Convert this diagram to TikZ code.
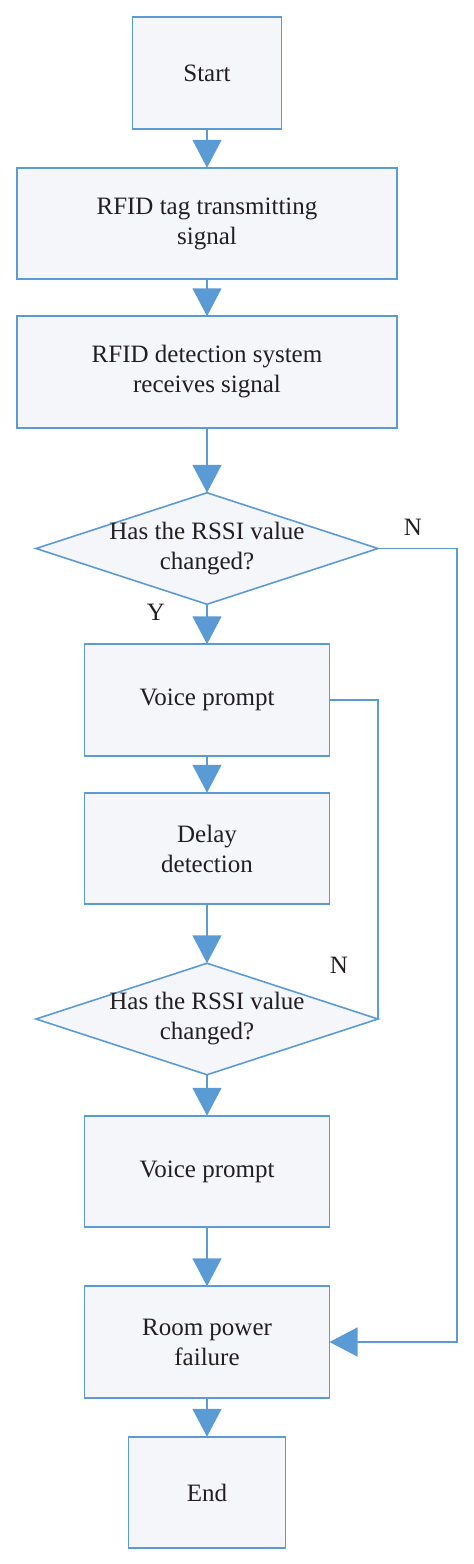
\documentclass[tikz,border=0pt]{standalone}
\usepackage{fontspec}
\setmainfont{Liberation Serif}
\usetikzlibrary{arrows.meta,shapes.geometric,positioning,calc}
\definecolor{flowblue}{HTML}{5B9BD5}
\definecolor{boxfill}{HTML}{F4F6FA}
\definecolor{flowtext}{HTML}{231F20}

\tikzset{
  box/.style={draw=flowblue,fill=boxfill,line width=1.6pt,minimum height=111.5pt,outer sep=0pt,
    align=center,text=flowtext,font=\fontsize{25}{30}\selectfont},
  decision/.style={box,diamond,aspect=3.08,inner sep=-5pt,minimum width=342pt,minimum height=111.5pt},
  line/.style={draw=flowblue,line width=1.6pt},
  arrow/.style={line,-{Triangle[width=29pt,length=28pt]},flowblue},
  lbl/.style={text=flowtext,font=\fontsize{25}{30}\selectfont,inner sep=0pt}
}

\begin{document}
\begin{tikzpicture}[x=1pt,y=-1pt]
\useasboundingbox (0,0) rectangle (474,1564);

% main column
\node [box,minimum width=149pt] (start) at (207,73) {Start};
\node [box,minimum width=380pt,below=39pt of start] (tag) {RFID tag transmitting\\signal};
\node [box,minimum width=380pt,below=37pt of tag] (recv) {RFID detection system\\receives signal};
\node [decision,below=65pt of recv] (dia1) {Has the RSSI value\\changed?};
\node [box,minimum width=245pt,below=40pt of dia1] (voice1) {Voice prompt};
\node [box,minimum width=245pt,below=37pt of voice1] (delay) {Delay\\detection};
\node [decision,below=59pt of delay] (dia2) {Has the RSSI value\\changed?};
\node [box,minimum width=245pt,below=41pt of dia2] (voice2) {Voice prompt};
\node [box,minimum width=245pt,below=59pt of voice2] (fail) {Room power\\failure};
\node [box,minimum width=157pt,below=39pt of fail] (end) {End};

\foreach \a / \b in {start/tag,tag/recv,recv/dia1,dia1/voice1,voice1/delay,delay/dia2,dia2/voice2,voice2/fail,fail/end}
  \draw [arrow] (\a) -- (\b);

% side branches
\coordinate (rt) at (457,0);
\draw [arrow] (dia1.east) -- (dia1.east -| rt) |- (fail.east);
\draw [line] (dia2.east) |- (voice1.east);

\node [lbl] (n1) at (413,527) {N};
\node [lbl] (y1) at (156,612) {Y};
\node [lbl] (n2) at (339,965) {N};

\end{tikzpicture}
\end{document}
